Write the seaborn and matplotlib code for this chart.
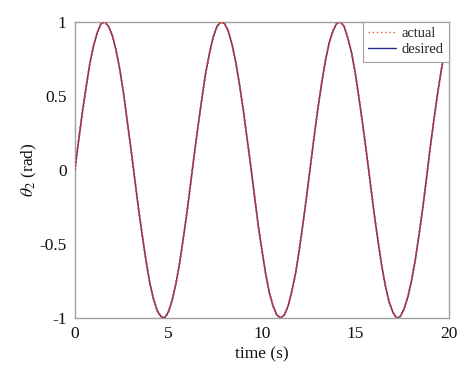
import matplotlib
matplotlib.use("Agg")
import matplotlib.pyplot as plt
import seaborn as sns
import pandas as pd

# time samples (s)
time_s = [round(0.2 * i, 1) for i in range(101)]
# theta_2 values (rad) (actual and desired coincide)
theta_desired = [
    0.00, 0.20, 0.39, 0.56, 0.72, 0.84, 0.93, 0.99, 1.00, 0.97,
    0.91, 0.81, 0.68, 0.52, 0.33, 0.14, -0.06, -0.26, -0.44, -0.61,
    -0.76, -0.87, -0.95, -0.99, -1.00, -0.96, -0.88, -0.77, -0.63, -0.46,
    -0.28, -0.08, 0.12, 0.31, 0.49, 0.66, 0.79, 0.90, 0.97, 1.00,
    0.99, 0.94, 0.85, 0.73, 0.58, 0.41, 0.22, 0.03, -0.17, -0.37,
    -0.54, -0.70, -0.83, -0.92, -0.98, -1.00, -0.98, -0.92, -0.82, -0.70,
    -0.54, -0.36, -0.17, 0.03, 0.23, 0.42, 0.59, 0.74, 0.86, 0.94,
    0.99, 1.00, 0.97, 0.89, 0.79, 0.65, 0.48, 0.30, 0.11, -0.09,
    -0.29, -0.47, -0.64, -0.78, -0.89, -0.96, -1.00, -0.99, -0.94, -0.86,
    -0.75, -0.61, -0.44, -0.26, -0.06, 0.15, 0.34, 0.52, 0.68, 0.81,
    0.91,
]
theta_actual = list(theta_desired)

x_ticks = [0, 5, 10, 15, 20]
x_labels = ["0", "5", "10", "15", "20"]
y_ticks = [-1, -0.5, 0, 0.5, 1]
y_labels = ["-1", "-0.5", "0", "0.5", "1"]

sns.set_style("white")
plt.rcParams["font.family"] = ["Liberation Serif", "DejaVu Serif"]
plt.rcParams["mathtext.fontset"] = "stix"

df = pd.DataFrame({"t": time_s, "desired": theta_desired, "actual": theta_actual})

fig = plt.figure(figsize=(4.74, 3.79), dpi=100)
ax = fig.add_axes([0.158, 0.161, 0.789, 0.781])

sns.lineplot(data=df, x="t", y="desired", ax=ax, color="#3a2f7a", linewidth=1.0,
             label="desired", zorder=2)
sns.lineplot(data=df, x="t", y="actual", ax=ax, color="#cf3a33", linewidth=1.4,
             linestyle=(0, (1, 0.8)), label="actual", zorder=3)

ax.set_xlim(0, 20)
ax.set_ylim(-1, 1)
ax.set_xticks(x_ticks)
ax.set_xticklabels(x_labels)
ax.set_yticks(y_ticks)
ax.set_yticklabels(y_labels)
ax.tick_params(direction="in", length=3, width=0.8, color="#888888",
               labelsize=12.5, pad=6, labelcolor="#111111")

for s in ax.spines.values():
    s.set_color("#a0a0a0")
    s.set_linewidth(1.0)

ax.set_xlabel("time (s)", fontsize=12.5, color="#111111", labelpad=3)
ax.set_ylabel(r"$\theta_2$ (rad)", fontsize=12.5, color="#111111")
ax.yaxis.set_label_coords(-0.095, 0.5)

handles, labels = ax.get_legend_handles_labels()
order = [labels.index("actual"), labels.index("desired")]
leg = ax.legend([handles[i] for i in order], [labels[i] for i in order],
                loc="upper right", bbox_to_anchor=(1.0, 1.0), fontsize=10.5,
                frameon=True, fancybox=False, framealpha=1,
                edgecolor="#a0a0a0", borderpad=0.35, handlelength=1.9,
                handletextpad=0.4, labelspacing=0.2, borderaxespad=0)
leg.get_frame().set_linewidth(0.8)
# legend handle for actual uses a sparser dot pattern like the reference
leg.get_lines()[0].set_linestyle((0, (1, 2)))
leg.get_lines()[0].set_color("#e0503a")
leg.get_lines()[0].set_linewidth(1.0)
leg.get_lines()[1].set_color("#2a2a8c")

fig.savefig("out.png", dpi=100)
